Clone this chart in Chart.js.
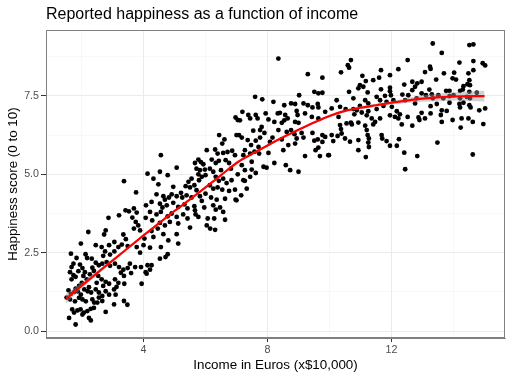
<!DOCTYPE html>
<html>
<head>
<meta charset="utf-8">
<script src="https://cdn.jsdelivr.net/npm/chart.js@4.4.1/dist/chart.umd.min.js"></script>
<style>
  html, body { margin: 0; padding: 0; background: #fff; }
  canvas { display: block; }
</style>
</head>
<body>
<canvas id="chart" width="512" height="379"></canvas>
<script>
// income (x$10,000) and happiness score
const income = [
  3.37,3.76,4.08,3.69,3.42,3.53,3.78,3.21,2.87,3.64,
  4.07,3.75,3.83,3.69,3.89,2.78,2.73,2.22,3.35,3.43,
  4.03,1.98,2.46,2.65,2.89,3.06,3.19,3.30,3.49,2.76,
  2.92,3.06,2.70,1.66,2.13,2.18,2.33,1.84,3.78,3.89,
  4.00,1.74,1.68,1.95,2.03,1.90,2.46,2.56,2.35,2.40,
  2.27,2.67,2.81,2.92,3.08,3.21,3.35,3.27,3.37,3.49,
  3.60,3.56,3.73,3.92,4.07,4.13,1.63,1.74,1.68,1.81,
  2.11,2.06,2.17,2.01,2.54,2.65,2.49,2.78,2.70,2.89,
  3.08,3.19,3.13,3.38,3.94,1.58,1.66,1.77,1.81,1.92,
  1.88,1.98,2.09,2.20,2.24,2.31,1.52,1.63,1.79,1.92,
  2.03,2.14,2.46,2.56,2.67,2.78,2.89,3.05,3.10,3.05,
  3.37,3.48,2.35,2.41,2.56,2.51,2.67,1.70,1.76,1.87,
  1.97,2.08,2.19,2.30,2.40,2.78,1.60,1.81,2.03,2.24,2.30,
  // 4 - 7
  6.97,7.04,6.44,7.00,6.61,6.54,6.04,6.31,6.39,6.57,
  6.71,6.86,6.95,4.56,5.77,5.85,5.66,5.93,6.20,6.33,
  6.43,6.65,6.76,5.07,5.71,5.82,5.98,6.14,6.25,6.50,
  6.82,4.53,4.13,4.32,4.78,5.77,5.88,6.00,5.79,6.33,
  6.43,6.57,6.68,6.84,5.45,5.55,5.36,5.50,5.64,5.71,
  6.14,6.25,6.39,6.54,6.76,6.95,4.48,4.96,4.42,4.64,
  4.69,4.82,4.91,5.07,5.21,5.25,5.39,5.55,5.82,6.00,
  5.88,6.18,6.36,6.63,6.97,4.26,4.53,4.61,4.75,4.96,
  5.12,5.32,5.42,5.64,5.66,5.96,6.25,6.33,6.47,6.57,
  4.21,4.42,4.56,4.78,4.91,5.07,5.28,5.42,5.68,5.77,
  6.07,6.28,6.63,4.28,4.53,4.69,4.85,5.12,5.50,6.04,
  6.15,6.31,4.26,4.46,4.64,4.32,4.80,5.07,5.12,4.56,
  4.21,4.78,4.71,4.53,4.26,4.21,4.10,
  // 7 - 10
  8.35,9.30,9.77,9.51,9.64,9.77,9.02,7.60,7.83,8.19,
  8.54,8.76,8.89,9.16,9.30,9.45,9.62,9.64,9.86,7.19,
  7.38,7.44,7.62,7.68,7.94,8.33,8.40,8.57,8.65,8.54,
  8.94,8.97,9.21,9.43,9.64,7.11,8.03,8.22,8.46,8.89,
  9.00,7.54,7.81,7.76,7.90,8.35,8.62,8.76,8.87,9.10,
  9.45,9.77,7.08,7.17,7.36,7.62,7.76,8.16,8.08,8.46,
  8.94,9.16,9.51,9.62,9.86,7.47,7.71,8.67,8.89,9.77,
  9.64,9.55,7.27,7.58,8.51,7.22,7.44,7.73,8.03,9.21,
  9.69,9.98,7.49,7.17,7.87,7.97,8.22,8.59,8.73,9.00,
  7.27,7.49,7.62,7.44,7.22,7.27,7.33,7.15,7.00,7.04,
  // 10 - 12.7
  10.69,10.59,10.63,10.37,12.52,12.22,11.66,11.06,11.17,11.41,
  11.60,11.95,12.41,12.67,10.98,11.09,10.93,11.23,11.66,11.95,
  11.95,10.63,11.52,11.79,11.98,12.35,12.54,12.67,10.23,10.07,
  10.34,10.77,11.15,11.25,11.63,11.84,12.06,12.44,10.52,10.77,
  10.98,10.88,11.04,11.25,11.52,11.74,12.01,12.17,12.27,12.22,
  12.52,10.29,10.80,11.20,11.36,11.47,11.63,11.95,12.11,10.34,
  10.55,10.69,10.72,10.93,11.15,11.41,12.33,12.67,10.37,11.20,
  10.07,10.26,10.39,10.50,10.12,10.66,10.93,11.23,11.27,11.25,
  11.68,11.70,11.84,12.24,11.95,12.17,10.93,11.27,12.41,11.17,
  12.44,9.96,
  // 12.7 - 15
  13.33,14.51,14.64,13.62,14.19,14.64,14.94,15.02,13.24,13.26,
  13.08,13.69,14.02,14.64,14.48,13.97,14.08,13.44,14.51,12.97,
  12.83,12.76,13.22,14.32,14.45,14.53,13.76,13.87,14.21,14.30,
  14.51,14.75,12.97,13.11,13.30,13.51,13.87,14.00,12.81,13.33,
  13.67,14.21,14.43,14.53,12.76,13.46,13.87,14.19,14.32,14.51,
  13.26,14.21,14.55,14.83,15.02,12.97,13.62,13.78,13.26,12.87,
  13.08,12.90,13.59,13.97,14.26,14.48,13.62,14.62,14.96,14.23,
  13.48,12.83,14.62
];
const happiness = [
  4.78,4.42,4.01,3.91,3.85,3.82,3.78,3.69,3.61,3.62,
  3.61,3.48,3.37,3.27,3.21,3.21,3.08,3.16,3.08,2.93,
  2.95,2.79,2.74,2.68,2.74,2.84,2.68,2.76,2.71,2.54,
  2.44,2.54,2.40,2.47,2.45,2.33,2.31,2.33,2.68,2.50,
  2.74,2.15,2.04,2.12,2.01,1.91,2.18,2.10,2.02,1.92,
  1.81,2.15,2.20,2.08,2.15,2.04,1.96,1.86,1.76,2.01,
  1.85,2.15,2.04,2.04,1.88,2.10,1.88,1.78,1.65,1.73,
  1.88,1.76,1.65,1.54,1.76,1.65,1.54,1.57,1.44,1.51,
  1.65,1.54,1.41,1.51,1.51,1.30,1.19,1.25,1.35,1.44,
  1.27,1.16,1.33,1.27,1.40,1.23,1.07,1.01,0.95,1.06,
  1.01,0.95,1.33,1.23,1.12,1.27,1.16,1.33,1.16,0.85,
  0.96,0.84,1.01,0.91,1.07,0.91,0.96,0.69,0.59,0.66,
  0.69,0.59,0.64,0.71,0.74,0.61,0.42,0.21,0.53,0.42,0.34,
  // 4 - 7
  6.81,6.73,6.25,6.25,6.11,5.98,5.77,5.79,5.66,5.68,
  5.71,5.75,5.61,5.61,5.47,5.39,5.36,5.32,5.47,5.36,
  5.43,5.45,5.36,5.21,5.18,5.13,5.15,5.18,5.08,5.13,
  5.18,5.08,5.02,4.86,4.97,5.00,4.92,4.97,4.81,4.92,
  4.79,4.86,4.72,4.81,4.76,4.86,4.62,4.58,4.65,4.49,
  4.65,4.54,4.58,4.51,4.47,4.51,4.68,4.60,4.36,4.30,
  4.19,4.26,4.36,4.30,4.41,4.26,4.33,4.26,4.30,4.38,
  4.15,4.26,4.19,4.22,4.19,4.12,4.06,3.94,4.01,4.09,
  3.96,4.04,3.91,3.98,3.85,3.94,4.01,3.87,3.94,3.80,
  3.80,3.72,3.80,3.66,3.75,3.64,3.72,3.59,3.72,3.64,
  3.59,3.59,3.55,3.53,3.45,3.37,3.48,3.43,3.30,3.37,
  3.27,3.23,3.19,3.27,3.09,3.00,2.89,3.09,2.79,2.68,
  2.66,2.45,2.36,2.31,2.10,1.96,1.83,
  // 7 - 10
  8.69,8.19,8.08,7.63,7.58,7.60,7.52,7.47,7.39,7.31,
  7.20,7.26,7.24,7.26,7.20,7.13,7.24,7.13,6.99,6.99,
  6.89,6.78,6.89,6.78,6.94,6.94,6.96,6.89,6.78,6.72,
  7.02,6.89,6.94,6.83,6.78,6.72,6.75,6.67,6.64,6.67,
  6.64,6.39,6.51,6.41,6.32,6.41,6.35,6.41,6.28,6.32,
  6.32,6.25,6.25,6.17,6.09,6.07,6.17,6.17,6.03,6.11,
  6.14,6.17,6.07,6.11,6.19,5.93,5.87,5.93,5.98,6.03,
  5.85,5.77,5.77,5.72,5.77,5.61,5.66,5.66,5.68,5.58,
  5.58,5.61,5.40,5.29,5.24,5.21,5.36,5.29,5.13,5.08,
  5.13,5.15,5.04,4.92,4.81,4.79,4.54,4.33,4.17,5.00,
  // 10 - 12.7
  8.64,8.48,8.40,8.25,8.64,8.35,8.32,8.14,7.97,8.00,
  8.08,8.16,7.86,7.95,7.84,7.79,7.74,7.61,7.71,7.76,
  7.65,7.63,7.47,7.50,7.52,7.54,7.52,7.68,7.36,7.10,
  7.15,7.42,7.36,7.26,7.36,7.31,7.36,7.36,7.08,7.08,
  7.18,7.04,6.97,7.01,7.08,7.18,7.15,7.01,6.91,6.78,
  6.83,6.83,6.91,6.88,6.78,6.67,6.78,6.88,6.83,6.57,
  6.62,6.65,6.59,6.65,6.55,6.59,6.59,6.55,6.44,6.41,
  6.25,6.22,6.30,6.14,6.06,6.04,6.09,6.25,6.14,6.01,
  6.25,6.14,6.06,6.12,5.91,5.91,5.77,5.87,5.69,5.55,
  5.16,5.61,
  // 12.7 - 15
  9.17,9.12,9.14,8.87,8.56,8.61,8.54,8.47,8.43,8.36,
  8.26,8.22,8.24,8.32,8.22,8.06,8.02,8.02,8.00,7.95,
  7.90,7.79,7.70,7.81,7.87,7.84,7.66,7.66,7.66,7.70,
  7.63,7.60,7.58,7.52,7.55,7.52,7.49,7.52,7.42,7.42,
  7.42,7.42,7.47,7.42,7.26,7.24,7.28,7.24,7.28,7.20,
  7.17,7.13,7.13,7.04,7.10,6.96,7.04,7.02,6.94,6.81,
  6.78,6.73,6.89,6.73,6.78,6.78,6.67,6.67,6.60,6.49,
  6.01,5.58,5.63
];

// loess fit (red) and its standard error band
const smoothX  = [1.5,2,2.5,3,3.5,4,4.5,5,5.5,6,6.5,7,7.5,8,8.5,9,9.5,10,10.5,11,11.5,12,12.5,13,13.5,14,14.5,15];
const smoothY  = [1.03,1.44,1.85,2.25,2.65,3.05,3.44,3.83,4.2,4.58,4.97,5.36,5.65,5.92,6.18,6.42,6.65,6.86,7.02,7.12,7.2,7.28,7.35,7.41,7.45,7.48,7.49,7.49];
const smoothSE = [0.15,0.1,0.07,0.05,0.04,0.035,0.035,0.035,0.035,0.035,0.035,0.035,0.035,0.035,0.035,0.035,0.035,0.04,0.04,0.045,0.05,0.06,0.08,0.1,0.12,0.13,0.15,0.17];

const xTicks = [2,4,6,8,10,12,14];
const xMajor = [4,8,12];
const yTicks = [0,1.25,2.5,3.75,5,6.25,7.5,8.75];
const yMajor = [0,2.5,5,7.5];

const points = income.map((x, i) => ({x: x, y: happiness[i]}));
const fit = smoothX.map((x, i) => ({x: x, y: smoothY[i]}));
const upper = smoothX.map((x, i) => ({x: x, y: smoothY[i] + smoothSE[i]}));
const lower = smoothX.map((x, i) => ({x: x, y: smoothY[i] - smoothSE[i]}));

Chart.defaults.font.family = "'Liberation Sans', Arial, sans-serif";

const gridColor = (majors) => (c) => majors.includes(c.tick && c.tick.value) ? '#EBEBEB' : '#F3F3F3';
const gridWidth = (majors) => (c) => majors.includes(c.tick && c.tick.value) ? 1 : 0.6;
const tickColor = (majors) => (c) => majors.includes(c.tick && c.tick.value) ? '#333333' : 'rgba(0,0,0,0)';

const panelBorder = {
  id: 'panelBorder',
  afterDraw(chart) {
    const {ctx, chartArea: a} = chart;
    ctx.save();
    ctx.strokeStyle = '#808080';
    ctx.lineWidth = 1;
    ctx.strokeRect(a.left + 0.5, a.top + 0.5, a.right - a.left - 1, a.bottom - a.top - 1);
    ctx.restore();
  }
};

new Chart(document.getElementById('chart'), {
  type: 'scatter',
  data: {
    datasets: [
      { type: 'line', data: fit, borderColor: '#FF0000', borderWidth: 2.2, pointRadius: 0,
        fill: false, cubicInterpolationMode: 'monotone' },
      { type: 'line', data: upper, borderWidth: 0, borderColor: 'rgba(0,0,0,0)', pointRadius: 0,
        fill: '+1', backgroundColor: 'rgba(153,153,153,0.45)', cubicInterpolationMode: 'monotone' },
      { type: 'line', data: lower, borderWidth: 0, borderColor: 'rgba(0,0,0,0)', pointRadius: 0,
        fill: false, cubicInterpolationMode: 'monotone' },
      { data: points, backgroundColor: '#000000', borderWidth: 0, pointRadius: 2.4, pointHoverRadius: 2.4 }
    ]
  },
  options: {
    responsive: false,
    animation: false,
    devicePixelRatio: 1,
    layout: { padding: { top: 0, right: 7, bottom: 0, left: 0 } },
    plugins: {
      legend: { display: false },
      tooltip: { enabled: false },
      title: {
        display: true,
        text: 'Reported happiness as a function of income',
        align: 'start',
        fullSize: false,
        color: '#000000',
        font: { size: 16, weight: 'normal' },
        padding: { top: 5, bottom: 5.8 }
      }
    },
    scales: {
      x: {
        type: 'linear',
        min: 0.855, max: 15.66,
        afterBuildTicks: (s) => { s.ticks = xTicks.map(v => ({value: v})); },
        afterFit: (s) => { s.height = 41; },
        ticks: {
          color: '#4D4D4D', font: { size: 10.7 }, padding: 2,
          callback: (v) => xMajor.includes(v) ? String(v) : ''
        },
        grid: { color: gridColor(xMajor), lineWidth: gridWidth(xMajor), tickColor: tickColor(xMajor),
                tickLength: 4, tickWidth: 1 },
        border: { display: true, color: '#808080', width: 1 },
        title: { display: true, text: 'Income in Euros (x$10,000)', color: '#000000',
                 font: { size: 13.4 }, padding: { top: 0, bottom: 6 } }
      },
      y: {
        type: 'linear',
        min: -0.22, max: 9.6,
        afterBuildTicks: (s) => { s.ticks = yTicks.map(v => ({value: v})); },
        afterFit: (s) => { s.width = 46; },
        ticks: {
          color: '#4D4D4D', font: { size: 10.7 }, padding: 2,
          callback: (v) => yMajor.includes(v) ? v.toFixed(1) : ''
        },
        grid: { color: gridColor(yMajor), lineWidth: gridWidth(yMajor), tickColor: tickColor(yMajor),
                tickLength: 5, tickWidth: 1 },
        border: { display: true, color: '#808080', width: 1 },
        title: { display: true, text: 'Happiness score (0 to 10)', color: '#000000',
                 font: { size: 13.4 }, padding: { top: 5, bottom: 0 } }
      }
    }
  },
  plugins: [panelBorder]
});
</script>
</body>
</html>
